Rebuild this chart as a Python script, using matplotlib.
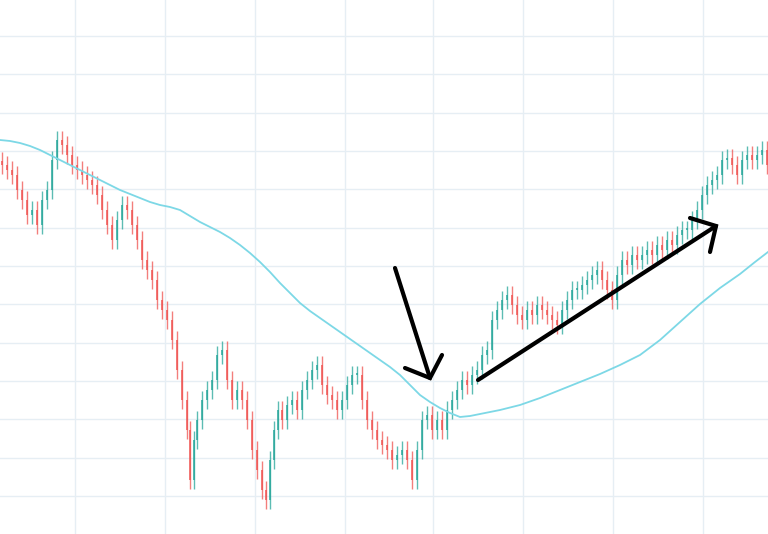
import matplotlib
matplotlib.use("Agg")
import matplotlib.pyplot as plt
import numpy as np

# price trace: x position and y (inverted pixel-like units: value = 534 - y)
trace = [(0,165),(5,170),(10,175),(15,190),(20,200),(25,215),(30,210),(35,225),(40,200),(45,190),(50,160),(55,140),(60,145),(65,155),(70,165),
 (75,170),(80,175),(85,180),(90,185),(95,195),(100,210),(105,225),(110,240),(115,220),(120,205),(125,210),(130,225),(135,240),(140,260),(145,270),
 (150,280),(155,300),(160,310),(165,320),(170,340),(175,370),(180,400),(185,430),(188,480),(192,440),(195,420),(200,400),(205,390),(210,380),(215,355),
 (220,350),(225,380),(230,400),(235,390),(240,400),(245,420),(250,450),(255,470),(260,490),(264,500),(268,460),(272,430),(276,410),(280,420),(285,405),
 (290,400),(295,410),(300,390),(305,380),(310,370),(315,365),(320,385),(325,395),(330,400),(335,410),(340,400),(345,385),(350,375),(355,375),(360,400),
 (365,420),(370,430),(375,440),(380,445),(385,450),(390,460),(395,455),(400,450),(405,460),(410,480),(415,450),(420,420),(425,415),(430,430),(435,420),
 (440,430),(445,410),(450,400),(455,390),(460,380),(465,385),(470,375),(475,370),(480,355),(485,350),(490,320),(495,310),(500,300),(505,295),(510,305),
 (515,315),(520,320),(525,310),(530,315),(535,305),(540,310),(545,315),(550,320),(555,325),(560,310),(565,300),(570,290),(575,290),(580,285),(585,280),
 (590,275),(595,270),(600,280),(605,290),(610,300),(615,275),(620,260),(625,265),(630,255),(635,260),(640,255),(645,250),(650,255),(655,245),(660,250),
 (665,240),(670,245),(675,235),(680,230),(685,230),(690,220),(695,210),(700,195),(705,185),(710,180),(715,175),(720,160),(725,158),(730,165),(735,175),
 (740,160),(745,155),(750,160),(755,155),(760,150),(765,165)]
candle_x = [p[0] for p in trace]
closes = [534 - p[1] for p in trace]
opens = [closes[0] + 4] + closes[:-1]

ma_x = [0,10,20,30,40,50,60,70,80,90,100,110,120,130,140,150,160,170,180,190,200,210,220,230,240,250,260,270,280,290,300,310,320,330,340,350,360,370,380,390,400,410,420,430,440,450,460,470,480,490,500,520,540,560,580,600,620,640,660,680,700,720,740,755,768]
ma_y = [140,141,143,146,150,155,160,165,170,175,180,185,190,194,198,202,205,207,210,216,222,227,232,238,245,253,262,272,283,293,303,311,318,325,332,339,346,353,360,367,375,385,395,402,408,413,417,416,414,412,410,405,398,390,382,374,365,355,340,322,304,288,274,262,252]
ma = [534 - y for y in ma_y]

arrow1 = [(395,268),(430,378)]
head1 = [(405,368),(430,378),(442,355)]
arrow2 = [(478,380),(716,226)]
head2 = [(690,218),(716,226),(710,252)]

fig = plt.figure(figsize=(7.68,5.34), dpi=100)
ax = fig.add_axes([0,0,1,1])
ax.set_xlim(0,768); ax.set_ylim(0,534)
for gx in [75,165,255,345,433,523,613,703]:
    ax.axvline(gx, color='#e6eef4', lw=1, zorder=0)
for gy in np.arange(36, 534, 38.35):
    ax.axhline(534-gy, color='#e6eef4', lw=1, zorder=0)

up, dn = '#26a69a', '#ef5350'
for x,o,c in zip(candle_x, opens, closes):
    col = up if c >= o else dn
    hi = max(o,c) + 9; lo = min(o,c) - 9
    ax.vlines(x+2, lo, hi, color=col, lw=1, alpha=0.75)
    ax.bar(x+2, max(abs(c-o),2), bottom=min(o,c), width=2.2, color=col, alpha=0.75, lw=0)

ax.plot(ma_x, ma, color='#7dd8e6', lw=1.3)

def inv(pts):
    return [p[0] for p in pts], [534-p[1] for p in pts]
for pts in [arrow1, head1, arrow2, head2]:
    xs, ys = inv(pts)
    ax.plot(xs, ys, color='black', lw=3, solid_capstyle='round', solid_joinstyle='miter')

ax.axis('off')
fig.savefig('out.png', dpi=100, facecolor='white')
